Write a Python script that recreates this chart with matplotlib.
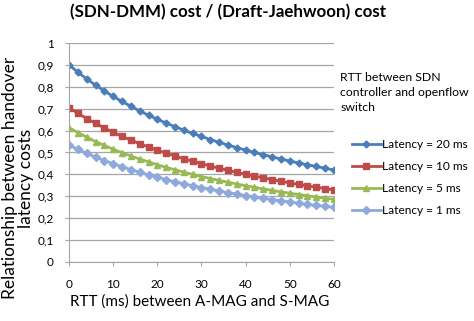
import matplotlib.pyplot as plt
from matplotlib.ticker import FuncFormatter

# RTT (ms) between A-MAG and S-MAG
rtt = list(range(0, 61, 2))

lat_20 = [0.900, 0.867, 0.836, 0.808, 0.781, 0.756, 0.733, 0.711, 0.690, 0.670, 0.652,
          0.634, 0.618, 0.602, 0.587, 0.573, 0.559, 0.546, 0.534, 0.522, 0.511,
          0.500, 0.490, 0.480, 0.470, 0.461, 0.452, 0.444, 0.436, 0.428, 0.420]
lat_10 = [0.705, 0.679, 0.655, 0.633, 0.612, 0.592, 0.574, 0.557, 0.540, 0.525, 0.510,
          0.497, 0.484, 0.471, 0.460, 0.449, 0.438, 0.428, 0.418, 0.409, 0.400,
          0.392, 0.384, 0.376, 0.368, 0.361, 0.354, 0.348, 0.341, 0.335, 0.329]
lat_5 = [0.613, 0.591, 0.570, 0.550, 0.532, 0.515, 0.499, 0.484, 0.470, 0.457, 0.444,
         0.432, 0.421, 0.410, 0.400, 0.390, 0.381, 0.372, 0.364, 0.356, 0.348,
         0.341, 0.333, 0.327, 0.320, 0.314, 0.308, 0.302, 0.297, 0.291, 0.286]
lat_1 = [0.534, 0.514, 0.496, 0.479, 0.463, 0.449, 0.435, 0.422, 0.409, 0.398, 0.387,
         0.376, 0.366, 0.357, 0.348, 0.340, 0.332, 0.324, 0.317, 0.310, 0.303,
         0.297, 0.290, 0.285, 0.279, 0.274, 0.268, 0.263, 0.258, 0.254, 0.249]

labels = ["Latency = 20 ms", "Latency = 10 ms", "Latency = 5 ms", "Latency = 1 ms"]

plt.rcParams['font.family'] = ['Lato', 'DejaVu Sans']

fig = plt.figure(figsize=(4.74, 3.21), dpi=100)
ax = fig.add_axes([0.1456, 0.184, 0.559, 0.682])

ax.plot(rtt, lat_20, color='#4A7EBB', marker='D', markersize=3.5, lw=2, label=labels[0])
ax.plot(rtt, lat_10, color='#BE4B48', marker='s', markersize=5, lw=2, label=labels[1])
ax.plot(rtt, lat_5, color='#98B954', marker='^', markersize=5, lw=2, label=labels[2])
ax.plot(rtt, lat_1, color='#8EA9DB', marker='D', markersize=4, lw=2, label=labels[3])

ax.set_xlim(0, 60)
ax.set_ylim(0, 1)
ax.set_xticks(range(0, 61, 10))
ax.set_yticks([i / 10 for i in range(11)])
ax.yaxis.set_major_formatter(FuncFormatter(lambda v, p: ('%g' % round(v, 1)).replace('.', ',')))
ax.grid(axis='y', color='#A6A6A6', lw=0.9)
ax.set_axisbelow(True)
for s in ['top', 'right']:
    ax.spines[s].set_visible(False)
for s in ['left', 'bottom']:
    ax.spines[s].set_color('#A6A6A6')
ax.tick_params(colors='#A6A6A6', labelcolor='black', labelsize=8.5, length=3)
ax.tick_params(axis='y', pad=8)
ax.tick_params(axis='x', pad=9)

fig.text(0.482, 0.963, "(SDN-DMM) cost / (Draft-Jaehwoon) cost", ha='center', va='center',
         fontsize=12.2, fontweight='bold')
fig.text(0.422, 0.06, "RTT (ms) between A-MAG and S-MAG", ha='center', va='center',
         fontsize=11)
fig.text(0.038, 0.445, "Relationship between handover\nlatency costs", ha='center', va='center',
         rotation=90, fontsize=12.5, linespacing=1.05)

fig.text(0.718, 0.775, "RTT between SDN\ncontroller and openflow\nswitch", ha='left', va='top',
         fontsize=8.8, linespacing=1.45)
fig.legend(loc='upper left', bbox_to_anchor=(0.72, 0.6), frameon=False, fontsize=8.6,
           handlelength=2.4, labelspacing=0.92, handletextpad=0.15)

fig.savefig('out.png', dpi=100)
